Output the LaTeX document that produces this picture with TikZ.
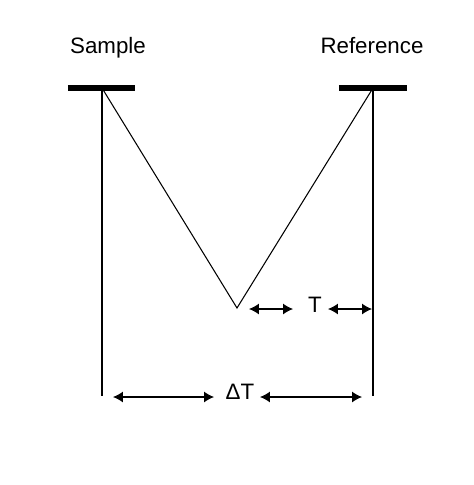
\documentclass[tikz,border=0pt]{standalone}
\usepackage{fontspec}
\setmainfont{Liberation Sans}
\usetikzlibrary{arrows.meta}

\tikzset{
  lbl/.style={font=\fontsize{12.7}{15}\selectfont, inner sep=0pt, anchor=base},
  holder/.style={line width=0.12cm},
  wire/.style={line width=0.6pt},
  dim/.style={line width=0.6pt, {Latex[length=2mm,width=2.2mm]}-{Latex[length=2mm,width=2.2mm]}}
}

\begin{document}
\begin{tikzpicture}[x=0.02cm, y=-0.02cm]
\useasboundingbox (0,0) rectangle (474,485);

%holders
\coordinate (sl) at (68,88);  \coordinate (sr) at (135,88);
\coordinate (rl) at (339,88); \coordinate (rr) at (407,88);
\draw[holder] (sl) -- (sr);
\draw[holder] (rl) -- (rr);

\node[lbl] (sample) at (108,53) {Sample};
\node[lbl] (reference) at (372,53) {Reference};

%thermocouple wires
\coordinate (stop) at (102,88);
\coordinate (rtop) at (373,88);
\coordinate (sbot) at (102,396);
\coordinate (rbot) at (373,396);
\coordinate (tip) at (237,308);
\draw[wire] (stop) -- (sbot);
\draw[wire] (rtop) -- (rbot);
\draw[wire] (stop) -- (tip) -- (rtop);

%temperatures
\node[lbl] (t) at (315,312) {T};
\node[lbl] (dt) at (240,399) {ΔT};

\coordinate (ta) at (249,309); \coordinate (tb) at (293,309);
\coordinate (tc) at (328,309); \coordinate (td) at (372,309);
\draw[dim] (ta) -- (tb);
\draw[dim] (tc) -- (td);

\coordinate (da) at (113,397); \coordinate (db) at (214,397);
\coordinate (dc) at (260,397); \coordinate (dd) at (362,397);
\draw[dim] (da) -- (db);
\draw[dim] (dc) -- (dd);
\end{tikzpicture}
\end{document}
